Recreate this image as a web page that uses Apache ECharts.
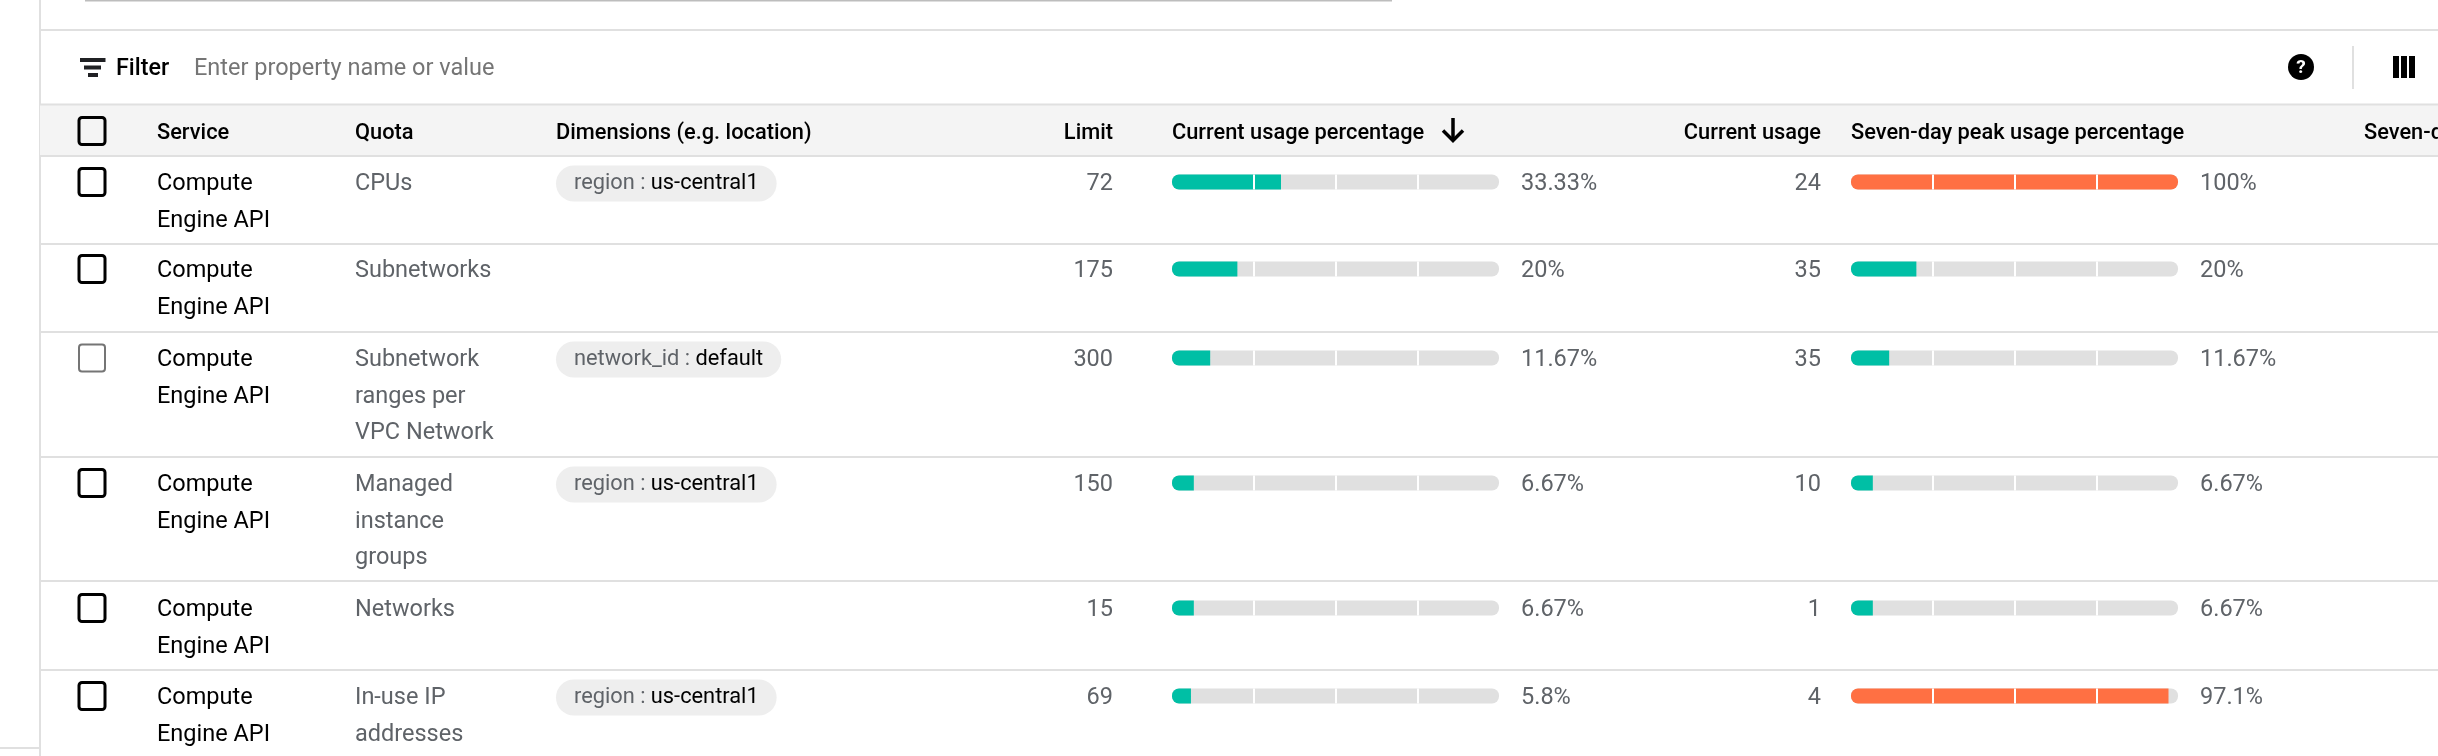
<!DOCTYPE html>
<html>
<head>
<meta charset="utf-8">
<style>
  html, body { margin: 0; padding: 0; background: #fff; }
  #main { width: 2438px; height: 756px; }
</style>
<script src="https://cdn.jsdelivr.net/npm/echarts@6/dist/echarts.min.js"></script>
</head>
<body>
<div id="main"></div>
<script>
// table content
const headers = ['Service', 'Quota', 'Dimensions (e.g. location)', 'Limit', 'Current usage percentage', 'Current usage', 'Seven-day peak usage percentage', 'Seven-day peak usage']
const services = ['Compute\nEngine API', 'Compute\nEngine API', 'Compute\nEngine API', 'Compute\nEngine API', 'Compute\nEngine API', 'Compute\nEngine API']
const quotas = ['CPUs', 'Subnetworks', 'Subnetwork\nranges per\nVPC Network', 'Managed\ninstance\ngroups', 'Networks', 'In-use IP\naddresses']
const dimensionKeys = ['region', '', 'network_id', 'region', '', 'region']
const dimensionValues = ['us-central1', '', 'default', 'us-central1', '', 'us-central1']
const limits = [72, 175, 300, 150, 15, 69]
const currentPct = [33.33, 20, 11.67, 6.67, 6.67, 5.8]
const currentUsage = [24, 35, 35, 10, 1, 4]
const peakPct = [100, 20, 11.67, 6.67, 6.67, 97.1]

// layout in pixels
const rowY = [182, 269, 358, 483, 608, 696]
const separators = [244, 332, 457, 581, 670]
const lineHeight = 36.5
const barHeight = 15
const barWidth = 327
const barLeft = { current: 1172, peak: 1851 }
const textShift = 2.5 // canvas 'middle' sits a little high for Roboto

const TEAL = '#00bfa5'
const ORANGE = '#ff7043'
const TRACK = '#e0e0e0'
const LINE = '#e0e0e0'
const DARK = '#000000'
const GREY = '#5f6368'
const FONT = 'Roboto'
const SIZE = 21.6
const BODY_SIZE = 23.5

function text(x, y, str, opts = {}) {
  return {
    type: 'text',
    style: {
      x, y: y + textShift, text: str,
      fontFamily: FONT,
      fontSize: opts.size || SIZE,
      fontWeight: opts.weight || 400,
      fill: opts.fill || DARK,
      align: opts.align || 'left',
      verticalAlign: 'middle'
    }
  }
}

function hline(x1, x2, y, color = LINE, lw = 2) {
  return { type: 'line', shape: { x1, y1: y, x2, y2: y }, style: { stroke: color, lineWidth: lw } }
}

function box(x, y, w, h, fill, r = 0) {
  return { type: 'rect', shape: { x, y, width: w, height: h, r }, style: { fill } }
}

function checkbox(cy, color = DARK, lw = 3) {
  return {
    type: 'rect',
    shape: { x: 79, y: cy - 13.5, width: 26, height: 27, r: 3 },
    style: { fill: 'none', stroke: color, lineWidth: lw }
  }
}

function multiline(x, y, str, opts) {
  return str.split('\n').map((s, k) => text(x, y + k * lineHeight, s, opts))
}

// page furniture, drawn as graphic elements
const headerOpts = { weight: 500, size: 21.8 }
const elements = [
  hline(85, 1392, 0.5, '#bdbdbd', 2),
  { type: 'line', shape: { x1: 40, y1: 0, x2: 40, y2: 756 }, style: { stroke: LINE, lineWidth: 2 } },
  hline(0, 40, 748),
  hline(40, 2438, 30),
  box(40, 105, 2398, 51, '#f4f4f4'),
  hline(40, 2438, 104.5),
  hline(40, 2438, 156),
  box(80, 58, 25.5, 4, '#202124'),
  box(84, 65.5, 17, 4, '#202124'),
  box(88, 73, 10, 4, '#202124'),
  text(116, 67, 'Filter', { weight: 500, size: 23.3 }),
  text(194, 67, 'Enter property name or value', { fill: '#757575', size: BODY_SIZE }),
  { type: 'circle', shape: { cx: 2301, cy: 67, r: 13 }, style: { fill: DARK } },
  {
    type: 'text',
    style: { x: 2301, y: 68, text: '?', fontFamily: FONT, fontSize: 19, fontWeight: 700, fill: '#fff', align: 'center', verticalAlign: 'middle' }
  },
  { type: 'line', shape: { x1: 2353, y1: 46, x2: 2353, y2: 89 }, style: { stroke: LINE, lineWidth: 2 } },
  box(2393, 56, 6, 22, DARK),
  box(2401, 56, 6, 22, DARK),
  box(2409, 56, 6, 22, DARK),
  checkbox(131),
  text(157, 131, headers[0], headerOpts),
  text(355, 131, headers[1], headerOpts),
  text(556, 131, headers[2], headerOpts),
  text(1113, 131, headers[3], { ...headerOpts, align: 'right' }),
  text(1172, 131, headers[4], headerOpts),
  { type: 'polyline', shape: { points: [[1453, 118], [1453, 140]] }, style: { stroke: DARK, lineWidth: 3.5, fill: 'none' } },
  { type: 'polyline', shape: { points: [[1443, 130.5], [1453, 140.5], [1463, 130.5]] }, style: { stroke: DARK, lineWidth: 3.5, fill: 'none' } },
  text(1821, 131, headers[5], { ...headerOpts, align: 'right' }),
  text(1851, 131, headers[6], headerOpts),
  text(2364, 131, headers[7], headerOpts)
]

separators.forEach(y => elements.push(hline(40, 2438, y)))

rowY.forEach((y, i) => {
  // the third row's checkbox is the hovered one, lighter in the screenshot
  elements.push(i === 2 ? checkbox(y, '#757575', 2) : checkbox(y))
  elements.push(...multiline(157, y, services[i], { fill: DARK, size: BODY_SIZE }))
  elements.push(...multiline(355, y, quotas[i], { fill: GREY, size: BODY_SIZE }))
  if (dimensionKeys[i]) {
    elements.push({
      type: 'text',
      style: {
        x: 556, y: y + textShift - 1,
        text: `{k|${dimensionKeys[i]} : }{v|${dimensionValues[i]}}`,
        verticalAlign: 'middle',
        backgroundColor: '#eeeeee',
        padding: [7, 18],
        borderRadius: 18,
        rich: {
          k: { fontFamily: FONT, fontSize: 21.8, fill: GREY, lineHeight: 22 },
          v: { fontFamily: FONT, fontSize: 21.8, fill: DARK, lineHeight: 22 }
        }
      }
    })
  }
  elements.push(text(1113, y, String(limits[i]), { fill: GREY, align: 'right', size: BODY_SIZE }))
  elements.push(text(1821, y, String(currentUsage[i]), { fill: GREY, align: 'right', size: BODY_SIZE }))
})

// one small grid per usage bar, so every bar goes through its own 0-100 axis
const grids = []
const xAxes = []
const yAxes = []
const series = []

function addBar(left, y, value) {
  const idx = grids.length
  grids.push({ left, top: y - barHeight / 2, width: barWidth, height: barHeight, containLabel: false })
  xAxes.push({
    gridIndex: idx,
    type: 'value',
    min: 0,
    max: 100,
    interval: 25,
    z: 10,
    axisLine: { show: false },
    axisTick: { show: false },
    axisLabel: { show: false },
    splitLine: { show: true, showMinLine: false, showMaxLine: false, lineStyle: { color: '#ffffff', width: 2 } }
  })
  yAxes.push({ gridIndex: idx, type: 'category', data: [''], show: false })
  // track, carries the percentage label to its right
  series.push({
    type: 'bar',
    xAxisIndex: idx,
    yAxisIndex: idx,
    barWidth: barHeight,
    barGap: '-100%',
    silent: true,
    animation: false,
    data: [100],
    itemStyle: { color: TRACK, borderRadius: 7 },
    label: {
      show: true,
      position: 'right',
      distance: 22,
      offset: [0, textShift],
      formatter: () => `${value}%`,
      fontFamily: FONT,
      fontSize: BODY_SIZE,
      color: GREY
    }
  })
  series.push({
    type: 'bar',
    xAxisIndex: idx,
    yAxisIndex: idx,
    barWidth: barHeight,
    barGap: '-100%',
    silent: true,
    animation: false,
    data: [value],
    itemStyle: {
      color: value >= 80 ? ORANGE : TEAL,
      borderRadius: value >= 100 ? 7 : [7, 0, 0, 7]
    }
  })
}

rowY.forEach((y, i) => {
  addBar(barLeft.current, y, currentPct[i])
  addBar(barLeft.peak, y, peakPct[i])
})

const myChart = echarts.init(document.getElementById('main'), null, { renderer: 'canvas' })
myChart.setOption({
  backgroundColor: '#ffffff',
  animation: false,
  tooltip: { show: false },
  grid: grids,
  xAxis: xAxes,
  yAxis: yAxes,
  series,
  graphic: { elements }
})
</script>
</body>
</html>
